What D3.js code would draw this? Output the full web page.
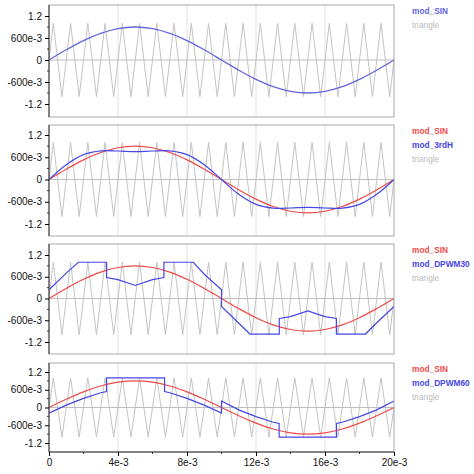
<!DOCTYPE html><html><head><meta charset="utf-8">
<script src="https://cdn.jsdelivr.net/npm/d3@7/dist/d3.min.js"></script>
<style>body{margin:0;background:#fff}</style></head><body><svg id="c" width="474" height="474"></svg>
<script>
// time in ms
const sinT=[0,1,2,3,4,5,6,7,8,9,10,11,12,13,14,15,16,17,18,19,20];
const sinV=[0,.278,.529,.728,.856,.9,.856,.728,.529,.278,0,-.278,-.529,-.728,-.856,-.9,-.856,-.728,-.529,-.278,0];
const h3V=[0,.400,.672,.774,.768,.750,.768,.774,.672,.400,0,-.400,-.672,-.774,-.768,-.750,-.768,-.774,-.672,-.400,0];
const triT=[0,.25,.75,1.25,1.75,2.25,2.75,3.25,3.75,4.25,4.75,5.25,5.75,6.25,6.75,7.25,7.75,8.25,8.75,9.25,9.75,10.25,10.75,11.25,11.75,12.25,12.75,13.25,13.75,14.25,14.75,15.25,15.75,16.25,16.75,17.25,17.75,18.25,18.75,19.25,19.75,20];
const triV=[0,1,-1,1,-1,1,-1,1,-1,1,-1,1,-1,1,-1,1,-1,1,-1,1,-1,1,-1,1,-1,1,-1,1,-1,1,-1,1,-1,1,-1,1,-1,1,-1,1,-1,0];
const d30T=[0,1,1.7,3.34,3.34,4,5,6,6.66,6.66,8.37,9,10,10,11.65,13.35,13.35,14,15,16,16.66,16.66,18.35,19,20];
const d30V=[.24,.7,1,1,.58,.52,.36,.52,.58,1,1,.67,.24,-.22,-.98,-.98,-.55,-.5,-.34,-.5,-.55,-.98,-.98,-.67,-.22];
const d60T=[0,1,2,3,3.34,3.34,6.7,6.7,7,8,9,10,10,11,12,13,13.34,13.34,16.66,16.66,17,18,19,20];
const d60V=[-.19,.08,.31,.50,.54,1.0,1.0,.54,.50,.31,.08,-.19,.22,-.08,-.31,-.50,-.54,-1.0,-1.0,-.54,-.50,-.31,-.08,.22];
const yTicks=[1.2,.6,0,-.6,-1.2], yLabels=["1.2","600e-3","0","-600e-3","-1.2"];
const xTicks=[0,4,8,12,16,20], xLabels=["0","4e-3","8e-3","12e-3","16e-3","20e-3"];

const BLUE="#4646e6",RED="#ee4a4a",GREY="#c4c4c4",PBLUE="#6464e0";
const svg=d3.select("#c");
const x=d3.scaleLinear().domain([0,20]).range([49,394]);
const panels=[
 {top:5,bot:117,y12:16,yn12:104,series:[[sinT,sinV,PBLUE,1.3]],leg:[["mod_SIN",PBLUE],["triangle","#bbb"]]},
 {top:125,bot:236,y12:135,yn12:224,series:[[sinT,sinV,RED,1.2],[sinT,h3V,BLUE,1.2]],leg:[["mod_SIN",RED],["mod_3rdH",BLUE],["triangle","#bbb"]]},
 {top:244,bot:354,y12:255,yn12:342,series:[[sinT,sinV,RED,1.2],[d30T,d30V,BLUE,1.2]],leg:[["mod_SIN",RED],["mod_DPWM30",BLUE],["triangle","#bbb"]]},
 {top:363,bot:452,y12:372,yn12:443,series:[[sinT,sinV,RED,1.2],[d60T,d60V,BLUE,1.2]],leg:[["mod_SIN",RED],["mod_DPWM60",BLUE],["triangle","#bbb"]]}
];
panels.forEach((p,pi)=>{
 const y=d3.scaleLinear().domain([-1.2,1.2]).range([p.yn12,p.y12]);
 const g=svg.append("g");
 [4,8,12,16].forEach(t=>g.append("line").attr("x1",x(t)).attr("x2",x(t)).attr("y1",p.top).attr("y2",p.bot).attr("stroke","#e2e2e2"));
 g.append("line").attr("x1",x(0)).attr("x2",x(20)).attr("y1",y(0)).attr("y2",y(0)).attr("stroke","#bdbdbd");
 const ln=d3.line().x(d=>x(d[0])).y(d=>y(d[1]));
 g.append("path").attr("d",ln(triT.map((t,i)=>[t,triV[i]]))).attr("fill","none").attr("stroke",GREY).attr("stroke-width",1);
 p.series.forEach(s=>{
  const smooth=(s[0]===sinT);
  const l=d3.line().x(d=>x(d[0])).y(d=>y(d[1])).curve(smooth?d3.curveCatmullRom:d3.curveLinear);
  g.append("path").attr("d",l(s[0].map((t,i)=>[t,s[1][i]]))).attr("fill","none").attr("stroke",s[2]).attr("stroke-width",s[3]);
 });
 g.append("rect").attr("x",x(0)).attr("y",p.top).attr("width",x(20)-x(0)).attr("height",p.bot-p.top).attr("fill","none").attr("stroke","#a8a8a8");
 g.append("line").attr("x1",x(0)).attr("x2",x(0)).attr("y1",p.top).attr("y2",p.bot).attr("stroke","#333");
 const ya=d3.axisLeft(y).tickValues(yTicks).tickSize(4).tickFormat((d,i)=>yLabels[i]);
 const ag=g.append("g").attr("transform",`translate(${x(0)},0)`).call(ya);
 ag.select(".domain").remove();
 ag.selectAll("text").attr("font-family","Arial, Liberation Sans").attr("font-size",10).attr("fill","#111");
 [-0.9,-0.3,0.3,0.9].forEach(v=>g.append("line").attr("x1",x(0)-2).attr("x2",x(0)).attr("y1",y(v)).attr("y2",y(v)).attr("stroke","#333"));
 p.leg.forEach((l,i)=>g.append("text").attr("x",412).attr("y",p.top+9+i*14).text(l[0]).attr("fill",l[1]).attr("font-family","Arial, Liberation Sans").attr("font-size",8.3).attr("font-weight",l[0]==="triangle"?"normal":"bold"));
 if(pi===3){
  g.append("line").attr("x1",x(0)).attr("x2",x(20)).attr("y1",p.bot).attr("y2",p.bot).attr("stroke","#333");
  const xa=d3.axisBottom(x).tickValues(xTicks).tickSize(4).tickFormat((d,i)=>xLabels[i]);
  const xg=g.append("g").attr("transform",`translate(0,${p.bot})`).call(xa);
  xg.select(".domain").remove();
  xg.selectAll("text").attr("font-family","Arial, Liberation Sans").attr("font-size",10).attr("fill","#111");
  [2,6,10,14,18].forEach(t=>g.append("line").attr("x1",x(t)).attr("x2",x(t)).attr("y1",p.bot).attr("y2",p.bot+2).attr("stroke","#333"));
 }
});
</script></body></html>
